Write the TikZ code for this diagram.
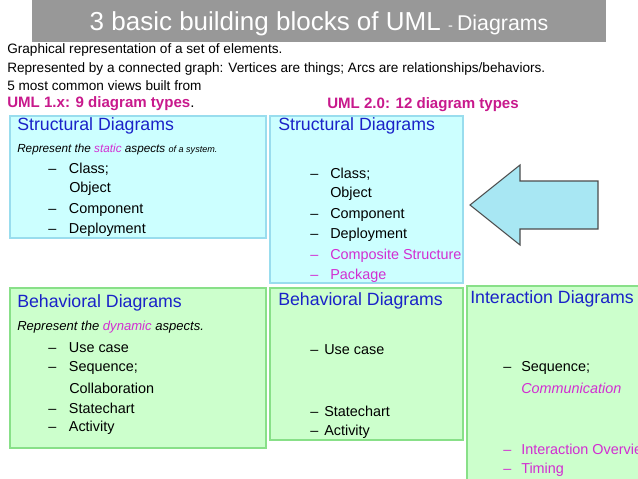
\documentclass[tikz,border=0pt]{standalone}
\usepackage{fontspec}
\setmainfont{Liberation Sans}
\definecolor{hblue}{HTML}{1A22C8}
\definecolor{umlmag}{HTML}{C8198C}
\definecolor{itmag}{HTML}{D22ED2}
\definecolor{cyanf}{HTML}{CCFFFF}
\definecolor{cyanb}{HTML}{99DDEE}
\definecolor{greenf}{HTML}{CCFFCC}
\definecolor{greenb}{HTML}{88E088}
\newcommand{\itm}[2]{\makebox[#1pt][l]{–}#2}
\begin{document}
\begin{tikzpicture}[x=0.75pt,y=-0.75pt,
  txt/.style={anchor=west,inner sep=0pt,font=\fontsize{10.8}{12}\selectfont},
  head/.style={anchor=west,inner sep=0pt,text=hblue,font=\fontsize{13.3}{14}\selectfont},
  cbox/.style={draw=cyanb,fill=cyanf,line width=1pt},
  gbox/.style={draw=greenb,fill=greenf,line width=1pt}]
\useasboundingbox (0,0) rectangle (638,478);
\clip (0,0) rectangle (638,478);
\fill[gray!85!black!70] (32,0) rectangle (606,42);
\node[inner sep=0pt,text=white,anchor=base] (title) at (319,31) {\fontsize{19.5}{20}\selectfont 3 basic building blocks of UML \fontsize{11}{12}\selectfont- \fontsize{16}{16}\selectfont Diagrams};
\node[txt,font=\fontsize{10.2}{12}\selectfont] (l1) at (7,50) {Graphical representation of a set of elements.};
\node[txt,font=\fontsize{10.2}{12}\selectfont] (l2) at (7,69) {Represented by a connected graph: Vertices are things; Arcs are relationships/behaviors.};
\node[txt,font=\fontsize{10.2}{12}\selectfont] (l3) at (7,86) {5 most common views built from};
\node[txt,font=\fontsize{11.3}{12}\selectfont\bfseries,text=umlmag] (u1) at (7,104) {UML 1.x: 9 diagram types\textcolor{black}{\mdseries.}};
\node[txt,font=\fontsize{11.3}{12}\selectfont\bfseries,text=umlmag] (u2) at (327,105) {UML 2.0: 12 diagram types};
% boxes
\draw[cbox] (10,116) rectangle (266,238);
\draw[cbox] (270,116) rectangle (463,283);
\draw[gbox] (10,288) rectangle (266,448);
\draw[gbox] (270,288) rectangle (463,440);
\draw[gbox] (467,286) rectangle (640,480);
\draw[draw=black!70,fill=cyanb!70!cyanf,line width=0.8pt] (470,205) -- (520,165) -- (520,181) -- (598,181) -- (598,229) -- (520,229) -- (520,245) -- cycle;
% left structural
\node[head] (ls) at (17,126) {Structural Diagrams};
\node[txt,font=\fontsize{8.8}{10}\selectfont\itshape] (lsr) at (17,149) {Represent the \textcolor{itmag}{static} aspects {\fontsize{6.8}{8}\selectfont of a system.}};
\foreach \y/\t in {169/Class;,210/Component,230/Deployment}{\node[txt] at (48,\y) {\itm{15.5}{\t}};}
\node[txt] at (69,189) {Object};
% middle structural
\node[head] (ms) at (278,126) {Structural Diagrams};
\foreach \y/\t in {174/Class;,215/Component,235/Deployment}{\node[txt] at (310,\y) {\itm{15}{\t}};}
\node[txt] at (330,194) {Object};
\foreach \y/\t in {256/Composite Structure,276/Package}{\node[txt,text=itmag] at (310,\y) {\itm{15}{\t}};}
% left behavioral
\node[head] (lb) at (17,303) {Behavioral Diagrams};
\node[txt,font=\fontsize{9.8}{11}\selectfont\itshape] (lbr) at (17,327) {Represent the \textcolor{itmag}{dynamic} aspects.};
\foreach \y/\t in {348/Use case,368/Sequence;,408/Statechart,428/Activity}{\node[txt] at (48,\y) {\itm{15.5}{\t}};}
\node[txt] at (69,388) {Collaboration};
% middle behavioral
\node[head] (mb) at (278,301) {Behavioral Diagrams};
\foreach \y/\t in {350/Use case,411/Statechart,432/Activity}{\node[txt] at (310,\y) {\itm{10.5}{\t}};}
% interaction
\node[head] (id) at (470,299) {Interaction Diagrams};
\node[txt] at (503,368) {\itm{13.5}{Sequence;}};
\node[txt,text=itmag,font=\fontsize{10.8}{12}\selectfont\itshape] at (521,388) {Communication};
\foreach \y/\t in {449/Interaction Overview,470/Timing}{\node[txt,text=itmag] at (503,\y) {\itm{13.5}{\t}};}
\end{tikzpicture}
\end{document}
